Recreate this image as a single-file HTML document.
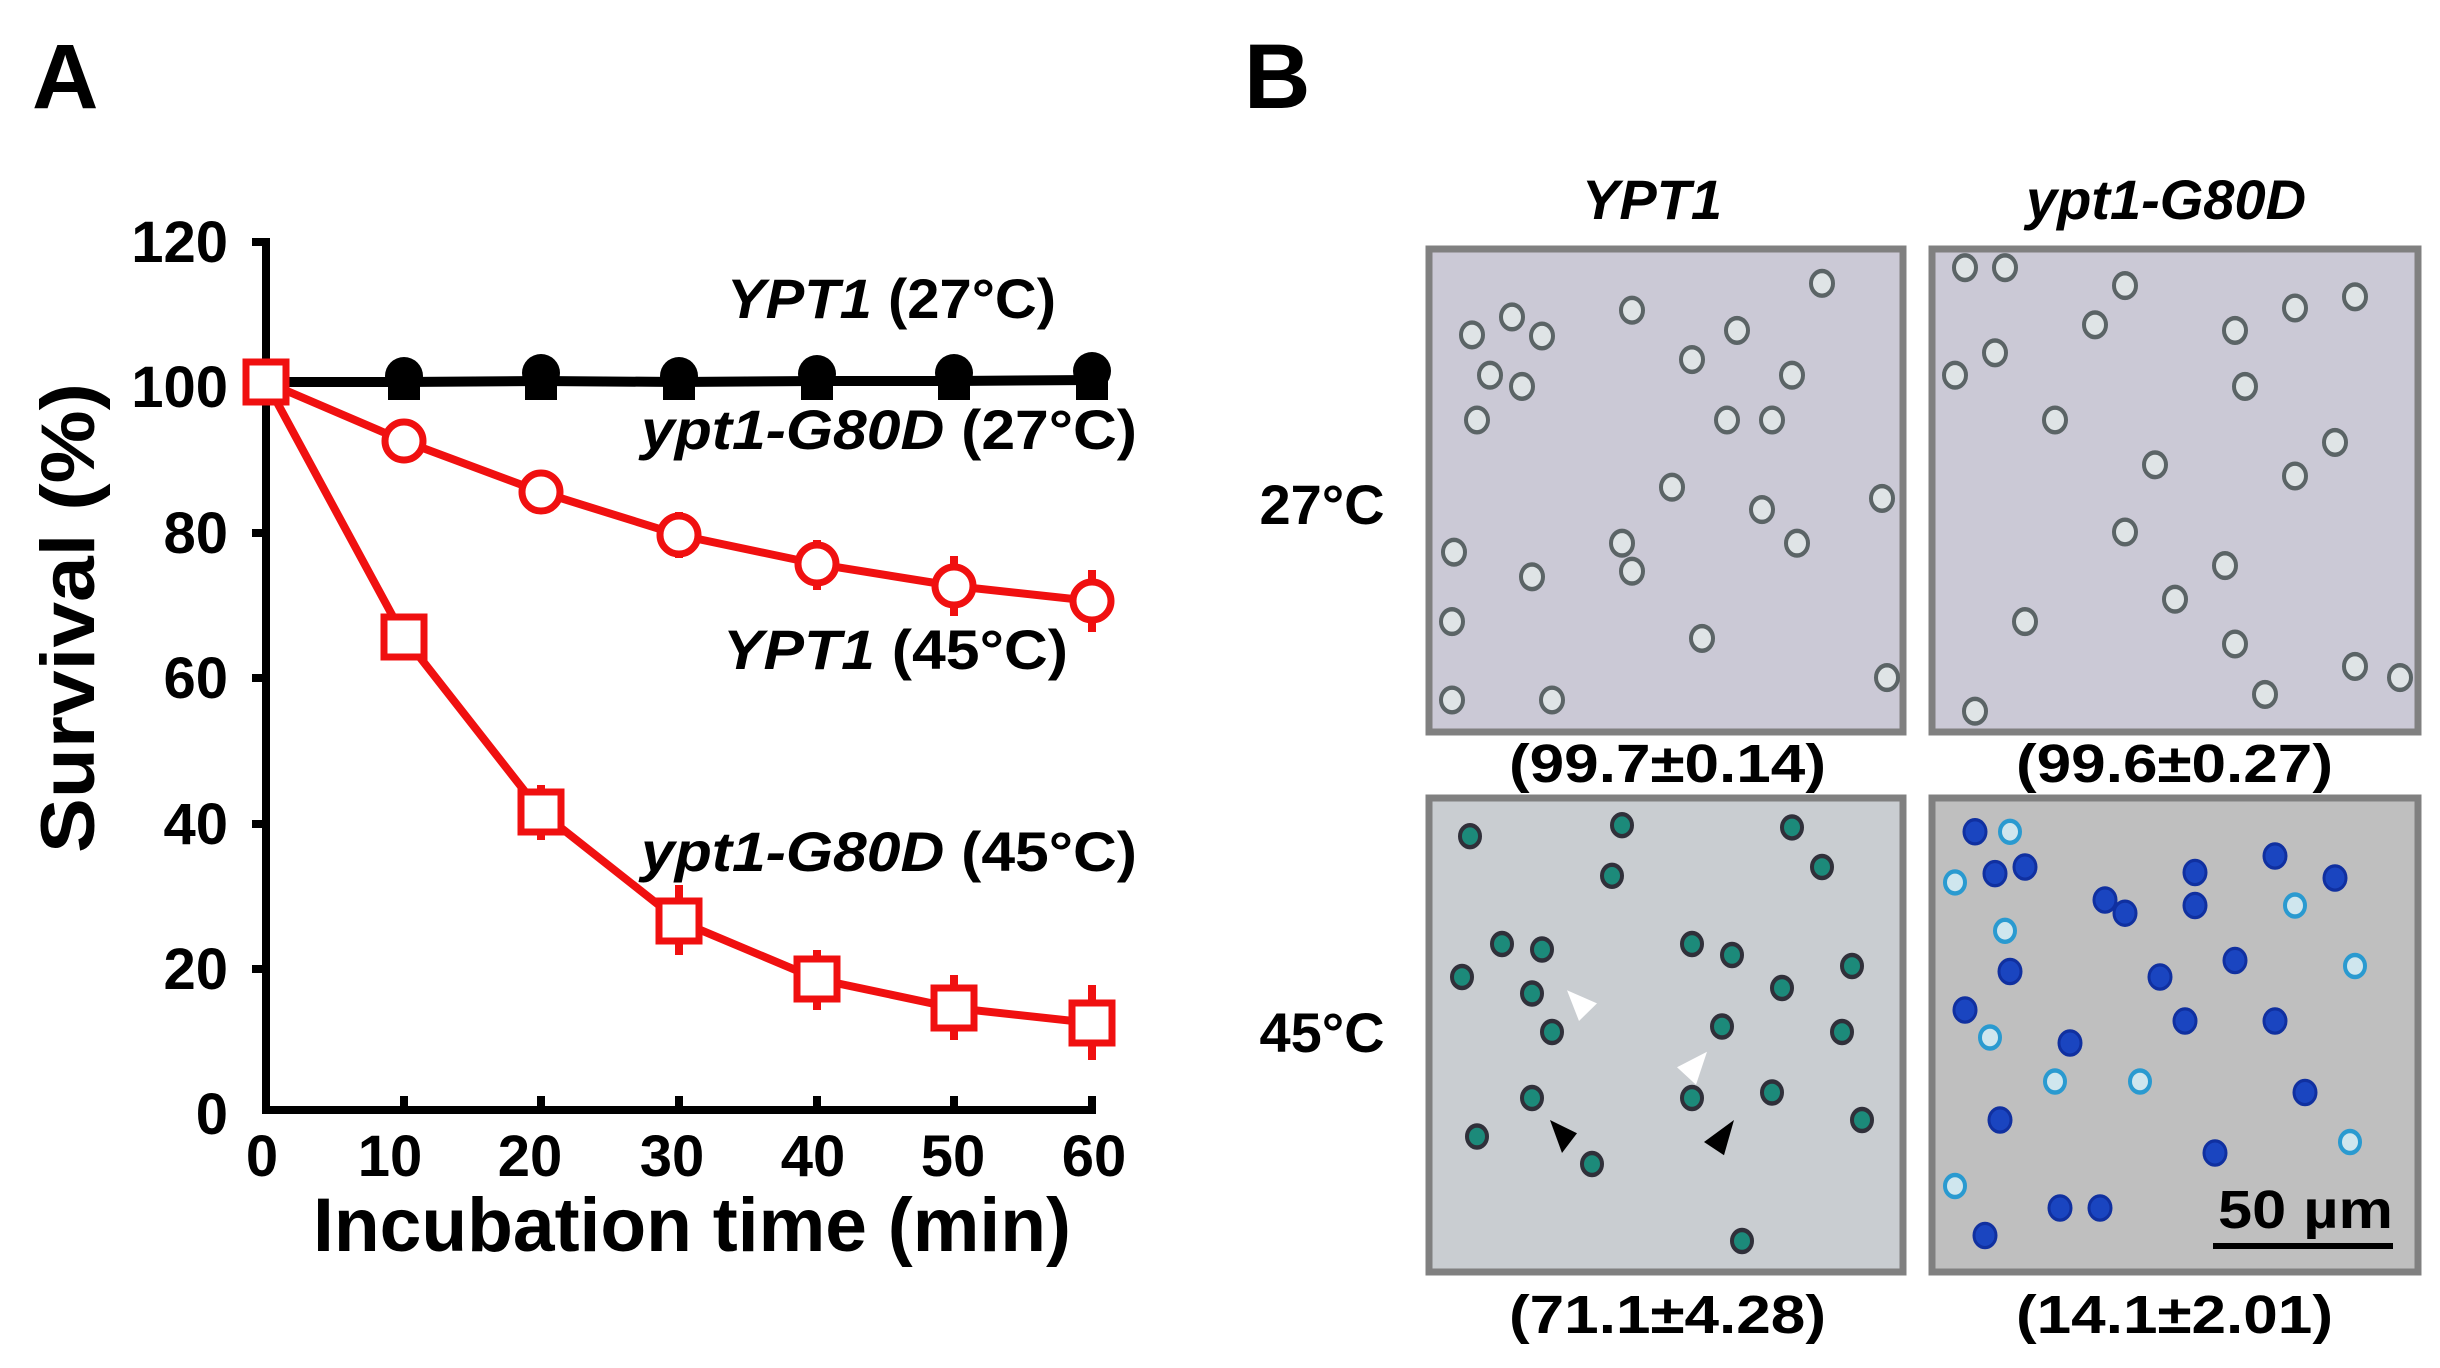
<!DOCTYPE html>
<html><head><meta charset="utf-8"><style>
html,body{margin:0;padding:0;background:#fff}
svg{display:block}
text{font-family:"Liberation Sans",Arial,sans-serif;font-weight:bold}
</style></head><body>
<svg width="2440" height="1368" viewBox="0 0 2440 1368" xmlns="http://www.w3.org/2000/svg">
<defs>
<g id="c1"><circle r="11" fill="#dfe4e6" stroke="#5b6466" stroke-width="4"/></g>
<g id="c2"><circle r="10" fill="#1c8a7a" stroke="#30303a" stroke-width="4"/></g>
<g id="c3"><circle r="11" fill="#1a45c0" stroke="#1030a0" stroke-width="3"/></g>
<g id="c4"><circle r="10" fill="#cfe6ee" stroke="#2a9ad0" stroke-width="4"/></g>
</defs>
<!-- Panel A -->
<text x="32" y="108" font-size="92">A</text>
<g stroke="#000" stroke-width="8" fill="none">
<line x1="266" y1="238" x2="266" y2="1114"/>
<line x1="262" y1="1110" x2="1096" y2="1110"/>
<line x1="252" y1="242" x2="266" y2="242"/><line x1="252" y1="387" x2="266" y2="387"/>
<line x1="252" y1="533" x2="266" y2="533"/><line x1="252" y1="678" x2="266" y2="678"/>
<line x1="252" y1="824" x2="266" y2="824"/><line x1="252" y1="969" x2="266" y2="969"/>
<line x1="404" y1="1096" x2="404" y2="1110"/><line x1="541" y1="1096" x2="541" y2="1110"/>
<line x1="679" y1="1096" x2="679" y2="1110"/><line x1="817" y1="1096" x2="817" y2="1110"/>
<line x1="954" y1="1096" x2="954" y2="1110"/><line x1="1092" y1="1096" x2="1092" y2="1110"/>
</g>
<g font-size="58" text-anchor="end">
<text x="228" y="262">120</text><text x="228" y="407">100</text><text x="228" y="553">80</text>
<text x="228" y="698">60</text><text x="228" y="844">40</text><text x="228" y="989">20</text><text x="228" y="1134">0</text>
</g>
<g font-size="58" text-anchor="middle">
<text x="262" y="1176">0</text><text x="390" y="1176">10</text><text x="530" y="1176">20</text>
<text x="672" y="1176">30</text><text x="813" y="1176">40</text><text x="953" y="1176">50</text><text x="1094" y="1176">60</text>
</g>
<text x="313" y="1251" font-size="76" textLength="758" lengthAdjust="spacingAndGlyphs">Incubation time (min)</text>
<text transform="translate(94,618) rotate(-90)" font-size="76" text-anchor="middle" textLength="470" lengthAdjust="spacingAndGlyphs">Survival (%)</text>
<!-- black series -->
<polyline points="266,382 404,382 541,381 679,382 817,381 954,381 1092,380" fill="none" stroke="#000" stroke-width="10"/>
<g fill="#000">
<rect x="388" y="366" width="32" height="34"/><rect x="525" y="366" width="32" height="34"/>
<rect x="663" y="366" width="32" height="34"/><rect x="801" y="366" width="32" height="34"/>
<rect x="938" y="366" width="32" height="34"/><rect x="1076" y="366" width="32" height="34"/>
<circle cx="404" cy="376" r="19"/><circle cx="541" cy="373" r="19"/><circle cx="679" cy="376" r="19"/>
<circle cx="817" cy="374" r="19"/><circle cx="954" cy="373" r="19"/><circle cx="1092" cy="371" r="19"/>
</g>
<!-- red circles -->
<g stroke="#f01010" stroke-width="8" fill="none">
<polyline points="266,382 404,441 541,492 679,535 817,564 954,586 1092,601"/>
<line x1="541" y1="474" x2="541" y2="510"/><line x1="679" y1="512" x2="679" y2="558"/>
<line x1="817" y1="540" x2="817" y2="590"/><line x1="954" y1="556" x2="954" y2="616"/><line x1="1092" y1="570" x2="1092" y2="632"/>
</g>
<g stroke="#f01010" stroke-width="7" fill="#fff">
<circle cx="404" cy="441" r="19"/><circle cx="541" cy="492" r="19"/><circle cx="679" cy="535" r="19"/>
<circle cx="817" cy="564" r="19"/><circle cx="954" cy="586" r="19"/><circle cx="1092" cy="601" r="19"/>
</g>
<!-- red squares -->
<g stroke="#f01010" stroke-width="8" fill="none">
<polyline points="266,382 404,637 541,812 679,921 817,979 954,1008 1092,1023"/>
<line x1="541" y1="785" x2="541" y2="840"/><line x1="679" y1="885" x2="679" y2="955"/>
<line x1="817" y1="950" x2="817" y2="1010"/><line x1="954" y1="975" x2="954" y2="1040"/><line x1="1092" y1="985" x2="1092" y2="1060"/>
</g>
<g stroke="#f01010" stroke-width="7" fill="#fff">
<rect x="246" y="362" width="40" height="40"/><rect x="384" y="617" width="40" height="40"/>
<rect x="521" y="792" width="40" height="40"/><rect x="659" y="901" width="40" height="40"/>
<rect x="797" y="959" width="40" height="40"/><rect x="934" y="988" width="40" height="40"/>
<rect x="1072" y="1003" width="40" height="40"/>
</g>
<g font-size="56">
<text x="727" y="318" textLength="329" lengthAdjust="spacingAndGlyphs"><tspan font-style="italic">YPT1</tspan> (27°C)</text>
<text x="641" y="449" textLength="496" lengthAdjust="spacingAndGlyphs"><tspan font-style="italic">ypt1-G80D</tspan>  (27°C)</text>
<text x="723" y="669" textLength="345" lengthAdjust="spacingAndGlyphs"><tspan font-style="italic">YPT1</tspan>  (45°C)</text>
<text x="641" y="871" textLength="496" lengthAdjust="spacingAndGlyphs"><tspan font-style="italic">ypt1-G80D</tspan>  (45°C)</text>
</g>
<!-- Panel B -->
<text x="1244" y="108" font-size="92">B</text>
<g font-size="56" text-anchor="middle">
<text x="1652" y="219" font-style="italic">YPT1</text>
<text x="2166" y="219" font-style="italic">ypt1-G80D</text>
<text x="1322" y="524">27°C</text>
<text x="1322" y="1052">45°C</text>
</g>
<g font-size="54">
<text x="1509" y="782" textLength="317" lengthAdjust="spacingAndGlyphs">(99.7±0.14)</text>
<text x="2016" y="782" textLength="317" lengthAdjust="spacingAndGlyphs">(99.6±0.27)</text>
<text x="1509" y="1333" textLength="317" lengthAdjust="spacingAndGlyphs">(71.1±4.28)</text>
<text x="2016" y="1333" textLength="317" lengthAdjust="spacingAndGlyphs">(14.1±2.01)</text>
</g>
<g stroke="#808080" stroke-width="7">
<rect x="1429" y="249" width="474" height="483" fill="#cbc9d6"/>
<rect x="1932" y="249" width="486" height="483" fill="#cbc9d6"/>
<rect x="1429" y="798" width="474" height="474" fill="#c9cdd1"/>
<rect x="1932" y="798" width="486" height="474" fill="#bfbfbf"/>
</g>
<svg x="1432" y="252" width="468" height="477"><g transform="scale(1,1.12)">
<use href="#c1" x="40" y="74"/><use href="#c1" x="80" y="58"/><use href="#c1" x="110" y="75"/><use href="#c1" x="58" y="110"/>
<use href="#c1" x="45" y="150"/><use href="#c1" x="90" y="120"/><use href="#c1" x="200" y="52"/><use href="#c1" x="305" y="70"/>
<use href="#c1" x="260" y="96"/><use href="#c1" x="340" y="150"/><use href="#c1" x="240" y="210"/><use href="#c1" x="190" y="260"/>
<use href="#c1" x="330" y="230"/><use href="#c1" x="365" y="260"/><use href="#c1" x="22" y="268"/><use href="#c1" x="20" y="330"/>
<use href="#c1" x="100" y="290"/><use href="#c1" x="200" y="285"/><use href="#c1" x="270" y="345"/><use href="#c1" x="390" y="28"/>
<use href="#c1" x="450" y="220"/><use href="#c1" x="455" y="380"/><use href="#c1" x="20" y="400"/><use href="#c1" x="120" y="400"/>
<use href="#c1" x="360" y="110"/><use href="#c1" x="295" y="150"/>
</g></svg>
<svg x="1935" y="252" width="480" height="477"><g transform="scale(1,1.12)">
<use href="#c1" x="30" y="14"/><use href="#c1" x="70" y="14"/><use href="#c1" x="20" y="110"/><use href="#c1" x="60" y="90"/>
<use href="#c1" x="160" y="65"/><use href="#c1" x="190" y="30"/><use href="#c1" x="300" y="70"/><use href="#c1" x="360" y="50"/>
<use href="#c1" x="420" y="40"/><use href="#c1" x="310" y="120"/><use href="#c1" x="120" y="150"/><use href="#c1" x="220" y="190"/>
<use href="#c1" x="190" y="250"/><use href="#c1" x="360" y="200"/><use href="#c1" x="400" y="170"/><use href="#c1" x="290" y="280"/>
<use href="#c1" x="90" y="330"/><use href="#c1" x="300" y="350"/><use href="#c1" x="420" y="370"/><use href="#c1" x="40" y="410"/>
<use href="#c1" x="330" y="395"/><use href="#c1" x="465" y="380"/><use href="#c1" x="240" y="310"/>
</g></svg>
<svg x="1432" y="801" width="468" height="468"><g transform="scale(1,1.1)">
<use href="#c2" x="38" y="32"/><use href="#c2" x="190" y="22"/><use href="#c2" x="360" y="24"/><use href="#c2" x="390" y="60"/>
<use href="#c2" x="180" y="68"/><use href="#c2" x="70" y="130"/><use href="#c2" x="110" y="135"/><use href="#c2" x="30" y="160"/>
<use href="#c2" x="100" y="175"/><use href="#c2" x="260" y="130"/><use href="#c2" x="300" y="140"/><use href="#c2" x="350" y="170"/>
<use href="#c2" x="420" y="150"/><use href="#c2" x="120" y="210"/><use href="#c2" x="290" y="205"/><use href="#c2" x="410" y="210"/>
<use href="#c2" x="100" y="270"/><use href="#c2" x="260" y="270"/><use href="#c2" x="340" y="265"/><use href="#c2" x="45" y="305"/>
<use href="#c2" x="160" y="330"/><use href="#c2" x="430" y="290"/><use href="#c2" x="310" y="400"/>
<polygon points="135,172 165,184 147,200" fill="#fff"/><polygon points="275,228 245,242 264,258" fill="#fff"/>
<polygon points="118,290 145,302 130,320" fill="#000"/><polygon points="302,290 272,310 292,322" fill="#000"/>
</g></svg>
<svg x="1935" y="801" width="480" height="468"><g transform="scale(1,1.1)">
<use href="#c3" x="40" y="28"/><use href="#c3" x="60" y="66"/><use href="#c4" x="75" y="28"/><use href="#c3" x="90" y="60"/>
<use href="#c4" x="20" y="74"/><use href="#c3" x="170" y="90"/><use href="#c3" x="190" y="102"/><use href="#c3" x="260" y="65"/>
<use href="#c3" x="340" y="50"/><use href="#c3" x="400" y="70"/><use href="#c4" x="360" y="95"/><use href="#c3" x="260" y="95"/>
<use href="#c4" x="70" y="118"/><use href="#c3" x="75" y="155"/><use href="#c3" x="300" y="145"/><use href="#c3" x="225" y="160"/>
<use href="#c4" x="420" y="150"/><use href="#c3" x="30" y="190"/><use href="#c3" x="250" y="200"/><use href="#c3" x="340" y="200"/>
<use href="#c4" x="55" y="215"/><use href="#c4" x="205" y="255"/><use href="#c3" x="135" y="220"/><use href="#c4" x="120" y="255"/>
<use href="#c3" x="370" y="265"/><use href="#c3" x="65" y="290"/><use href="#c4" x="415" y="310"/><use href="#c3" x="280" y="320"/>
<use href="#c4" x="20" y="350"/><use href="#c3" x="125" y="370"/><use href="#c3" x="165" y="370"/><use href="#c3" x="50" y="395"/>
</g></svg>
<text x="2218" y="1228" font-size="54" font-weight="normal" textLength="175" lengthAdjust="spacingAndGlyphs" fill="#000">50 µm</text>
<rect x="2213" y="1243" width="180" height="6" fill="#000"/>
</svg>
</body></html>
